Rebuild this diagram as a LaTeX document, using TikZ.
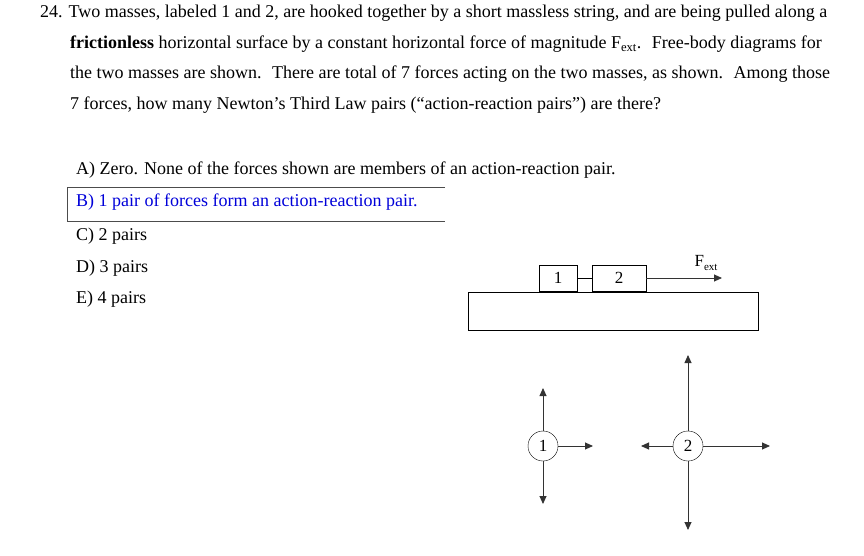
\documentclass[tikz,border=0pt]{standalone}
\usepackage{fontspec}
\setmainfont{Liberation Serif}
\usetikzlibrary{arrows.meta}
\begin{document}
\begin{tikzpicture}[x=1pt,y=-1pt,
  txt/.style={anchor=base west,inner sep=0pt,font=\fontsize{18}{21}\selectfont},
  blk/.style={draw,thick,minimum height=26pt,inner sep=0pt,font=\fontsize{17}{20}\selectfont},
  mass/.style={draw,circle,minimum size=30pt,inner sep=0pt,font=\fontsize{17}{20}\selectfont},
  force/.style={draw=black!80,line width=0.9pt,-{Triangle[length=8pt,width=7pt]}}]
\useasboundingbox (0,0) rectangle (864,556);
\node[txt] (l1) at (40,18) {24. Two masses, labeled 1 and 2, are hooked together by a short massless string, and are being pulled along a};
\node[txt] (l2) at (70,49) {\textbf{frictionless} horizontal surface by a constant horizontal force of magnitude F\textsubscript{ext}. \ Free-body diagrams for};
\node[txt] (l3) at (70,79) {the two masses are shown. \ There are total of 7 forces acting on the two masses, as shown. \ Among those};
\node[txt] (l4) at (70,110) {7 forces, how many Newton’s Third Law pairs (“action-reaction pairs”) are there?};
\node[txt] (oa) at (76,175) {A) Zero. None of the forces shown are members of an action-reaction pair.};
\node[txt,text=blue!85!black] (ob) at (76,207) {B) 1 pair of forces form an action-reaction pair.};
\node[txt] (oc) at (76,240) {C) 2 pairs};
\node[txt] (od) at (76,272) {D) 3 pairs};
\node[txt] (oe) at (76,303) {E) 4 pairs};
\draw[black!70] (445,187) -- (67,187) -- (67,221) -- (445,221);
\node[draw,thick,minimum width=290pt,minimum height=38pt,inner sep=0pt] (ground) at (613,311) {};
\node[blk,minimum width=38pt] (b1) at (558,278) {1};
\node[blk,minimum width=54pt] (b2) at (619,278) {2};
\draw (b1.east) -- (b2.west);
\coordinate (fe) at (722,278);
\draw[force] (b2.east) -- (fe);
\node[inner sep=0pt,font=\fontsize{17}{20}\selectfont] (fl) at (706,263) {F\raisebox{-0.4ex}{\fontsize{11}{12}\selectfont ext}};
\node[mass] (m1) at (543,446) {1};
\coordinate (m1u) at (543,388); \coordinate (m1d) at (543,504); \coordinate (m1r) at (593,446);
\draw[force] (m1.north) -- (m1u);
\draw[force] (m1.south) -- (m1d);
\draw[force] (m1.east) -- (m1r);
\node[mass] (m2) at (688,446) {2};
\coordinate (m2u) at (688,355); \coordinate (m2d) at (688,530);
\coordinate (m2l) at (641,446); \coordinate (m2r) at (770,446);
\draw[force] (m2.north) -- (m2u);
\draw[force] (m2.south) -- (m2d);
\draw[force] (m2.west) -- (m2l);
\draw[force] (m2.east) -- (m2r);
\end{tikzpicture}
\end{document}
